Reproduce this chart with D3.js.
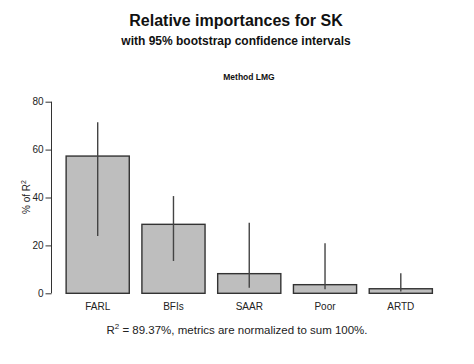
<!DOCTYPE html>
<html><head><meta charset="utf-8">
<script src="https://cdn.jsdelivr.net/npm/d3@7"></script>
<style>body{margin:0;background:#fff;} svg{display:block;}</style>
</head><body>
<script>
const categories = ["FARL", "BFIs", "SAAR", "Poor", "ARTD"];
const values = [57.3, 28.8, 8.2, 3.6, 1.9];
const lower = [23.9, 13.5, 2.3, 1.7, 0.7];
const upper = [71.4, 40.6, 29.5, 20.9, 8.4];
const yTicks = [0, 20, 40, 60, 80];

const W = 474, H = 364;
const svg = d3.select("body").append("svg").attr("width", W).attr("height", H);
const font = "Liberation Sans, Arial, sans-serif";

const x = d3.scaleBand().domain(categories).range([53.5, 445]).paddingInner(0.2/1.2).paddingOuter(0.2/1.2);
const y = d3.scaleLinear().domain([0, 80]).range([293.3, 101.7]);

// bars
svg.selectAll("rect.bar").data(categories).enter().append("rect")
  .attr("x", d => x(d)).attr("width", x.bandwidth())
  .attr("y", (d, i) => y(values[i])).attr("height", (d, i) => y(0) - y(values[i]))
  .attr("fill", "#bebebe").attr("stroke", "#333").attr("stroke-width", 1.4);

// CI lines
svg.selectAll("line.ci").data(categories).enter().append("line")
  .attr("x1", d => x(d) + x.bandwidth()/2).attr("x2", d => x(d) + x.bandwidth()/2)
  .attr("y1", (d, i) => y(lower[i])).attr("y2", (d, i) => y(upper[i]))
  .attr("stroke", "#444").attr("stroke-width", 1.4);

// y axis
const ax = svg.append("g").attr("transform", "translate(51.5,0)")
  .call(d3.axisLeft(y).tickValues(yTicks).tickSize(6).tickPadding(2));
ax.select(".domain").attr("stroke", "#333").attr("d", `M0,${y(0)}V${y(80)}`);
ax.selectAll(".tick line").attr("stroke", "#333");
ax.selectAll(".tick text").attr("font-family", font).attr("font-size", 10).attr("fill", "#222");

// x labels
svg.selectAll("text.xl").data(categories).enter().append("text")
  .attr("x", d => x(d) + x.bandwidth()/2).attr("y", 310)
  .attr("text-anchor", "middle").attr("font-family", font).attr("font-size", 10).attr("fill", "#222")
  .text(d => d);

// y label
const yl = svg.append("text").attr("transform", "translate(30,197) rotate(-90)")
  .attr("text-anchor", "middle").attr("font-family", font).attr("font-size", 10).attr("fill", "#222");
yl.append("tspan").text("% of R");
yl.append("tspan").attr("dy", -4).attr("font-size", 7).text("2");

// titles
svg.append("text").attr("x", 236).attr("y", 26).attr("text-anchor", "middle")
  .attr("font-family", font).attr("font-weight", "bold").attr("font-size", 16).attr("fill", "#111")
  .text("Relative importances for SK");
svg.append("text").attr("x", 236).attr("y", 45).attr("text-anchor", "middle")
  .attr("font-family", font).attr("font-weight", "bold").attr("font-size", 12).attr("fill", "#111")
  .text("with 95% bootstrap confidence intervals");
svg.append("text").attr("x", 249).attr("y", 80).attr("text-anchor", "middle")
  .attr("font-family", font).attr("font-weight", "bold").attr("font-size", 8.5).attr("fill", "#111")
  .text("Method LMG");

// bottom note
const bn = svg.append("text").attr("x", 237).attr("y", 334).attr("text-anchor", "middle")
  .attr("font-family", font).attr("font-size", 11.5).attr("fill", "#222");
bn.append("tspan").text("R");
bn.append("tspan").attr("dy", -5).attr("font-size", 8).text("2");
bn.append("tspan").attr("dy", 5).text(" = 89.37%, metrics are normalized to sum 100%.");
</script>
</body></html>
